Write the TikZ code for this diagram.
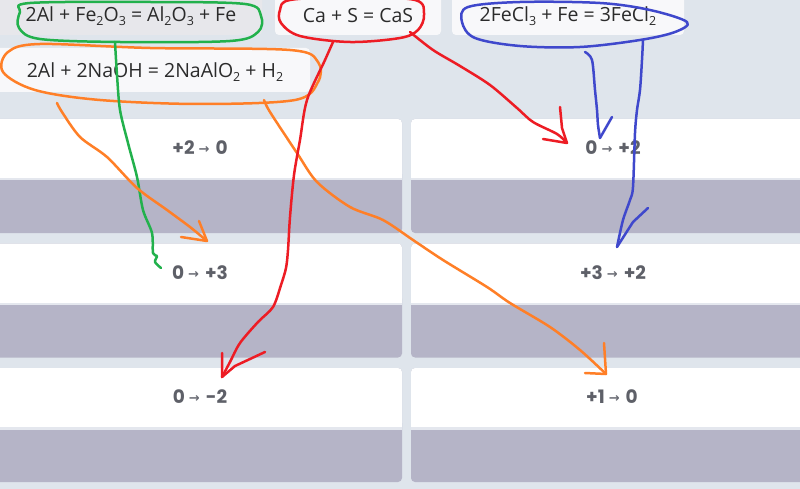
\documentclass[tikz,border=0pt]{standalone}
\usepackage{fontspec}
\setmainfont{Open Sans}
\newfontfamily\lblfont{Poppins}
\newfontfamily\symfont{DejaVu Sans}
\newcommand{\sbs}[1]{\raisebox{-0.35ex}{\fontsize{12.5}{13}\selectfont #1}}
\newcommand{\lblarrow}{\hspace{4pt}\raisebox{1.5pt}{\symfont\bfseries\fontsize{13}{13}\selectfont\color{lblgray}→}\hspace{6pt}}
\definecolor{bgc}{HTML}{DFE5EC}
\definecolor{band}{HTML}{B5B4C7}
\definecolor{sep}{HTML}{E4E7EE}
\definecolor{cardA}{HTML}{E7E7EB}
\definecolor{cardB}{HTML}{F8F8FA}
\definecolor{txt}{HTML}{2B2B2B}
\definecolor{lblc}{HTML}{5E6068}
\definecolor{lblgray}{HTML}{6A6C74}
\definecolor{pgreen}{HTML}{22B14C}
\definecolor{pred}{HTML}{ED1C24}
\definecolor{porange}{HTML}{FF7F27}
\definecolor{pblue}{HTML}{3F48CC}
\tikzset{
  eqtext/.style={font=\fontsize{19.5}{21}\selectfont, text=txt, inner sep=0pt},
  lbltext/.style={font=\lblfont\bfseries\fontsize{18.5}{20}\selectfont, text=lblc, inner sep=0pt},
  pen/.style={line width=2.5pt, line cap=round, line join=round},
  gpen/.style={pen, draw=pgreen},
  rpen/.style={pen, draw=pred},
  open/.style={pen, draw=porange},
  bpen/.style={pen, draw=pblue},
}
\begin{document}
\begin{tikzpicture}[x=1pt,y=-1pt]
\useasboundingbox (0,0) rectangle (800,489);
\fill[bgc] (0,0) rectangle (800,489);
% answer cards
\foreach \yy in {119,243.5,368}{
  \foreach \xa/\xb in {-10/402, 411/810}{
    \fill[band, rounded corners=4pt] (\xa,\yy) rectangle (\xb,\yy+114);
    \fill[white, rounded corners=4pt] (\xa,\yy) rectangle (\xb,\yy+59);
    \fill[white] (\xa,\yy+30) rectangle (\xb,\yy+59);
    \fill[sep] (\xa,\yy+59) rectangle (\xb,\yy+61.5);
  }
}
% formula cards
\fill[cardA, rounded corners=4pt] (-10,-10) rectangle (262,35);
\fill[cardB, rounded corners=4pt] (275,-10) rectangle (441,35);
\fill[cardB, rounded corners=4pt] (452,-10) rectangle (684,35);
\fill[cardB, rounded corners=4pt] (-10,48) rectangle (310,92);
\node[eqtext] (eq1) at (131,16) {2Al + Fe\sbs{2}O\sbs{3} = Al\sbs{2}O\sbs{3} + Fe};
\node[eqtext] (eq2) at (358,16) {Ca + S = CaS};
\node[eqtext] (eq3) at (568,16) {2FeCl\sbs{3} + Fe = 3FeCl\sbs{2}};
\node[eqtext] (eq4) at (155,72) {2Al + 2NaOH = 2NaAlO\sbs{2} + H\sbs{2}};
% labels
\node[lbltext] (l1) at (200,148) {+2\lblarrow{}0};
\node[lbltext] (l2) at (613,148) {0\lblarrow{}+2};
\node[lbltext] (l3) at (200,273) {0\lblarrow{}+3};
\node[lbltext] (l4) at (613,273) {+3\lblarrow{}+2};
\node[lbltext] (l5) at (200,397) {0\lblarrow{}-2};
\node[lbltext] (l6) at (612,397) {+1\lblarrow{}0};
% ellipses
\draw[gpen] plot[smooth cycle, tension=0.55] coordinates {(30,3) (150,2) (245,4) (261,16) (258,32) (230,41) (120,42) (40,39) (19,28) (20,12)};
\draw[rpen] plot[smooth cycle, tension=0.55] coordinates {(290,0) (350,-3) (415,0) (424,15) (418,30) (400,38) (350,42) (300,36) (281,23) (280,10)};
\draw[bpen] plot[smooth cycle, tension=0.55] coordinates {(468,7) (520,2) (600,3) (650,10) (687,22) (675,32) (640,40) (580,47) (520,46) (475,38) (462,22)};
\draw[open] plot[smooth cycle, tension=0.55] coordinates {(40,44) (150,48) (290,50) (318,62) (318,82) (295,100) (200,104) (100,100) (35,90) (3,72) (8,52)};
% connector ends
\coordinate (gs) at (115,42);  \coordinate (ge) at (161,268);
\coordinate (o1s) at (57,103); \coordinate (o1e) at (207,241);
\coordinate (o2s) at (264,100); \coordinate (o2e) at (606,374);
\coordinate (r1s) at (333,42); \coordinate (r1e) at (222,377);
\coordinate (r2s) at (410,32); \coordinate (r2e) at (567,143);
\coordinate (b1s) at (585,52); \coordinate (b1e) at (600,138);
\coordinate (b2s) at (643,40); \coordinate (b2e) at (617,247);
% green
\draw[gpen] plot[smooth, tension=0.5] coordinates {(gs) (117,75) (120,110) (128,143) (137,177) (143,210) (152,233) (153,253) (157,256) (155,262) (ge)};
% orange
\draw[open] plot[smooth, tension=0.5] coordinates {(o1s) (62,112) (80,137) (107,157) (137,188) (167,210) (190,227) (o1e)};
\draw[open] (181,237) -- (o1e) -- (199,221);
\draw[open] plot[smooth, tension=0.5] coordinates {(o2s) (270,112) (297,153) (317,182) (350,207) (383,220) (413,240) (443,260) (487,287) (510,303) (550,327) (580,350) (o2e)};
\draw[open] (604,343) -- (o2e) -- (585,373);
% red
\draw[rpen] plot[smooth, tension=0.5] coordinates {(r1s) (325,60) (307,100) (300,140) (294,175) (290,217) (288,250) (286,268) (281,285) (273,307) (258,322) (240,343) (230,362) (r1e)};
\draw[rpen] (222,353) -- (r1e) -- (235,366) -- (265,352);
\draw[rpen] plot[smooth, tension=0.5] coordinates {(r2s) (433,50) (460,66) (490,85) (517,108) (533,122) (557,134) (r2e)};
\draw[rpen] (560,107) -- (562,128) -- (r2e) -- (543,139);
% blue
\draw[bpen] plot[smooth, tension=0.5] coordinates {(b1s) (592,60) (595,90) (597,110) (598,125) (b1e)};
\draw[bpen] (612,117) -- (b1e);
\draw[bpen] plot[smooth, tension=0.5] coordinates {(b2s) (642,60) (640,90) (637,110) (635,133) (633,187) (630,200) (623,220) (b2e)};
\draw[bpen] (648,208) -- (633,222) -- (b2e);
\end{tikzpicture}
\end{document}
